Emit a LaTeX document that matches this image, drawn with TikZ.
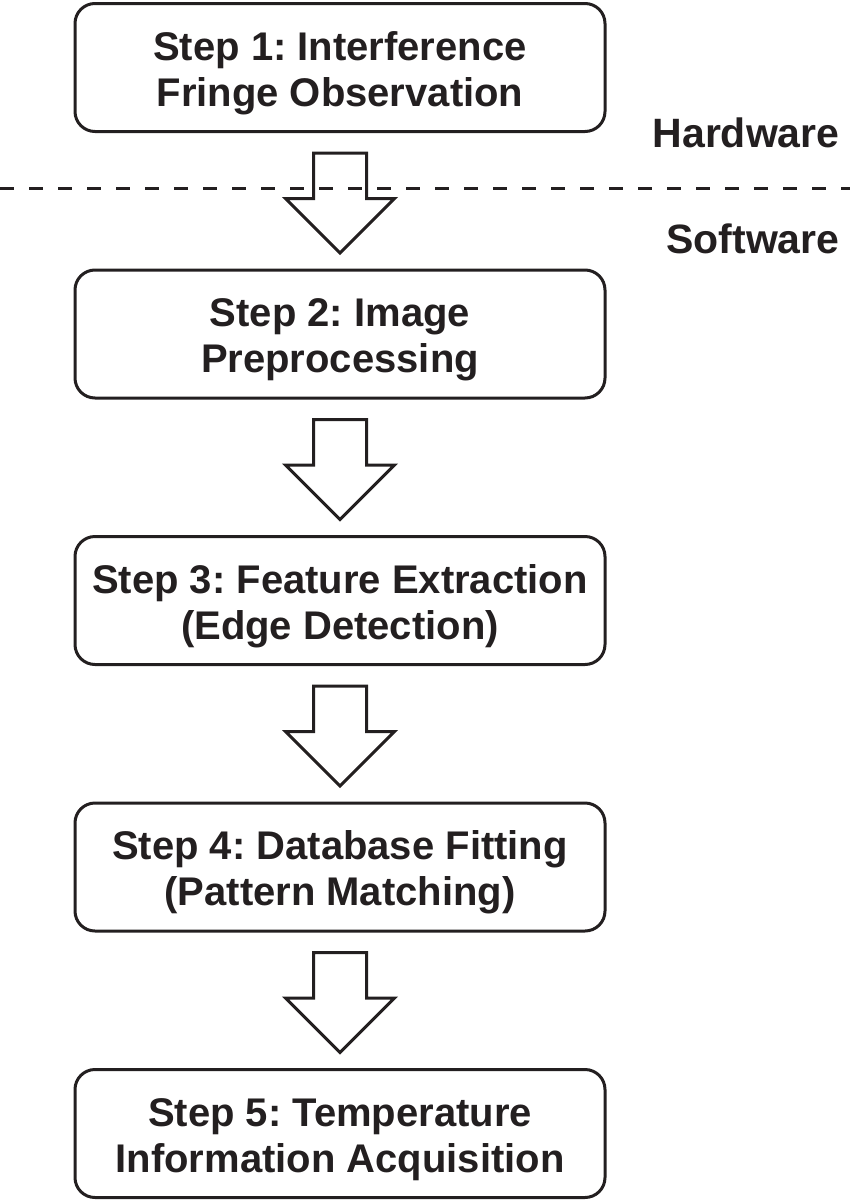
\documentclass[tikz,border=0pt]{standalone}
\usepackage{fontspec}
\setmainfont{Liberation Sans}
\frenchspacing
\definecolor{ink}{RGB}{35, 31, 32}
\usetikzlibrary{shapes.arrows, positioning, calc}

\begin{document}
\begin{tikzpicture}[
        x=1pt, y=1pt,
        node distance=138.5pt,
        every node/.style={font=\fontsize{40}{46}\selectfont\bfseries, align=center, text=ink},
        stepbox/.style={draw=ink, line width=3pt, rounded corners=20pt, minimum width=530pt, minimum height=128pt, inner sep=0pt, outer sep=0pt, text height=85pt, text depth=8pt},
        fatarrow/.style={draw=ink, line width=3pt, single arrow, rotate=-90, anchor=tail, single arrow head extend=28pt, minimum height=100pt, inner sep=25pt},
        sidelabel/.style={anchor=base east},
        divider/.style={draw=ink, line width=3pt, dash pattern=on 14pt off 15pt}
      ]
      \useasboundingbox (0,0) rectangle (850,-1202);

      % processing chain
      \node[stepbox] (s1) at (340,-67.5) {Step 1: Interference\\Fringe Observation};
      \node[stepbox, below=of s1] (s2) {Step 2: Image\\Preprocessing};
      \node[stepbox, below=of s2] (s3) {Step 3: Feature Extraction\\(Edge Detection)};
      \node[stepbox, below=of s3] (s4) {Step 4: Database Fitting\\(Pattern Matching)};
      \node[stepbox, below=of s4] (s5) {Step 5: Temperature\\Information Acquisition};

      % block arrows between the steps
      \foreach \i in {1,...,4}
        \node[fatarrow] (a\i) at ($(s\i.south)+(0,-20)$) {};

      % hardware / software split
      \coordinate (dl) at (0,-188);
      \coordinate (dr) at (850,-188);
      \draw[divider] (dl) -- (dr);
      \node[sidelabel, font=\fontsize{41}{46}\selectfont\bfseries] (hw) at (843,-147) {Hardware};
      \node[sidelabel, font=\fontsize{41}{46}\selectfont\bfseries] (sw) at (843,-253) {Software};
\end{tikzpicture}
\end{document}
